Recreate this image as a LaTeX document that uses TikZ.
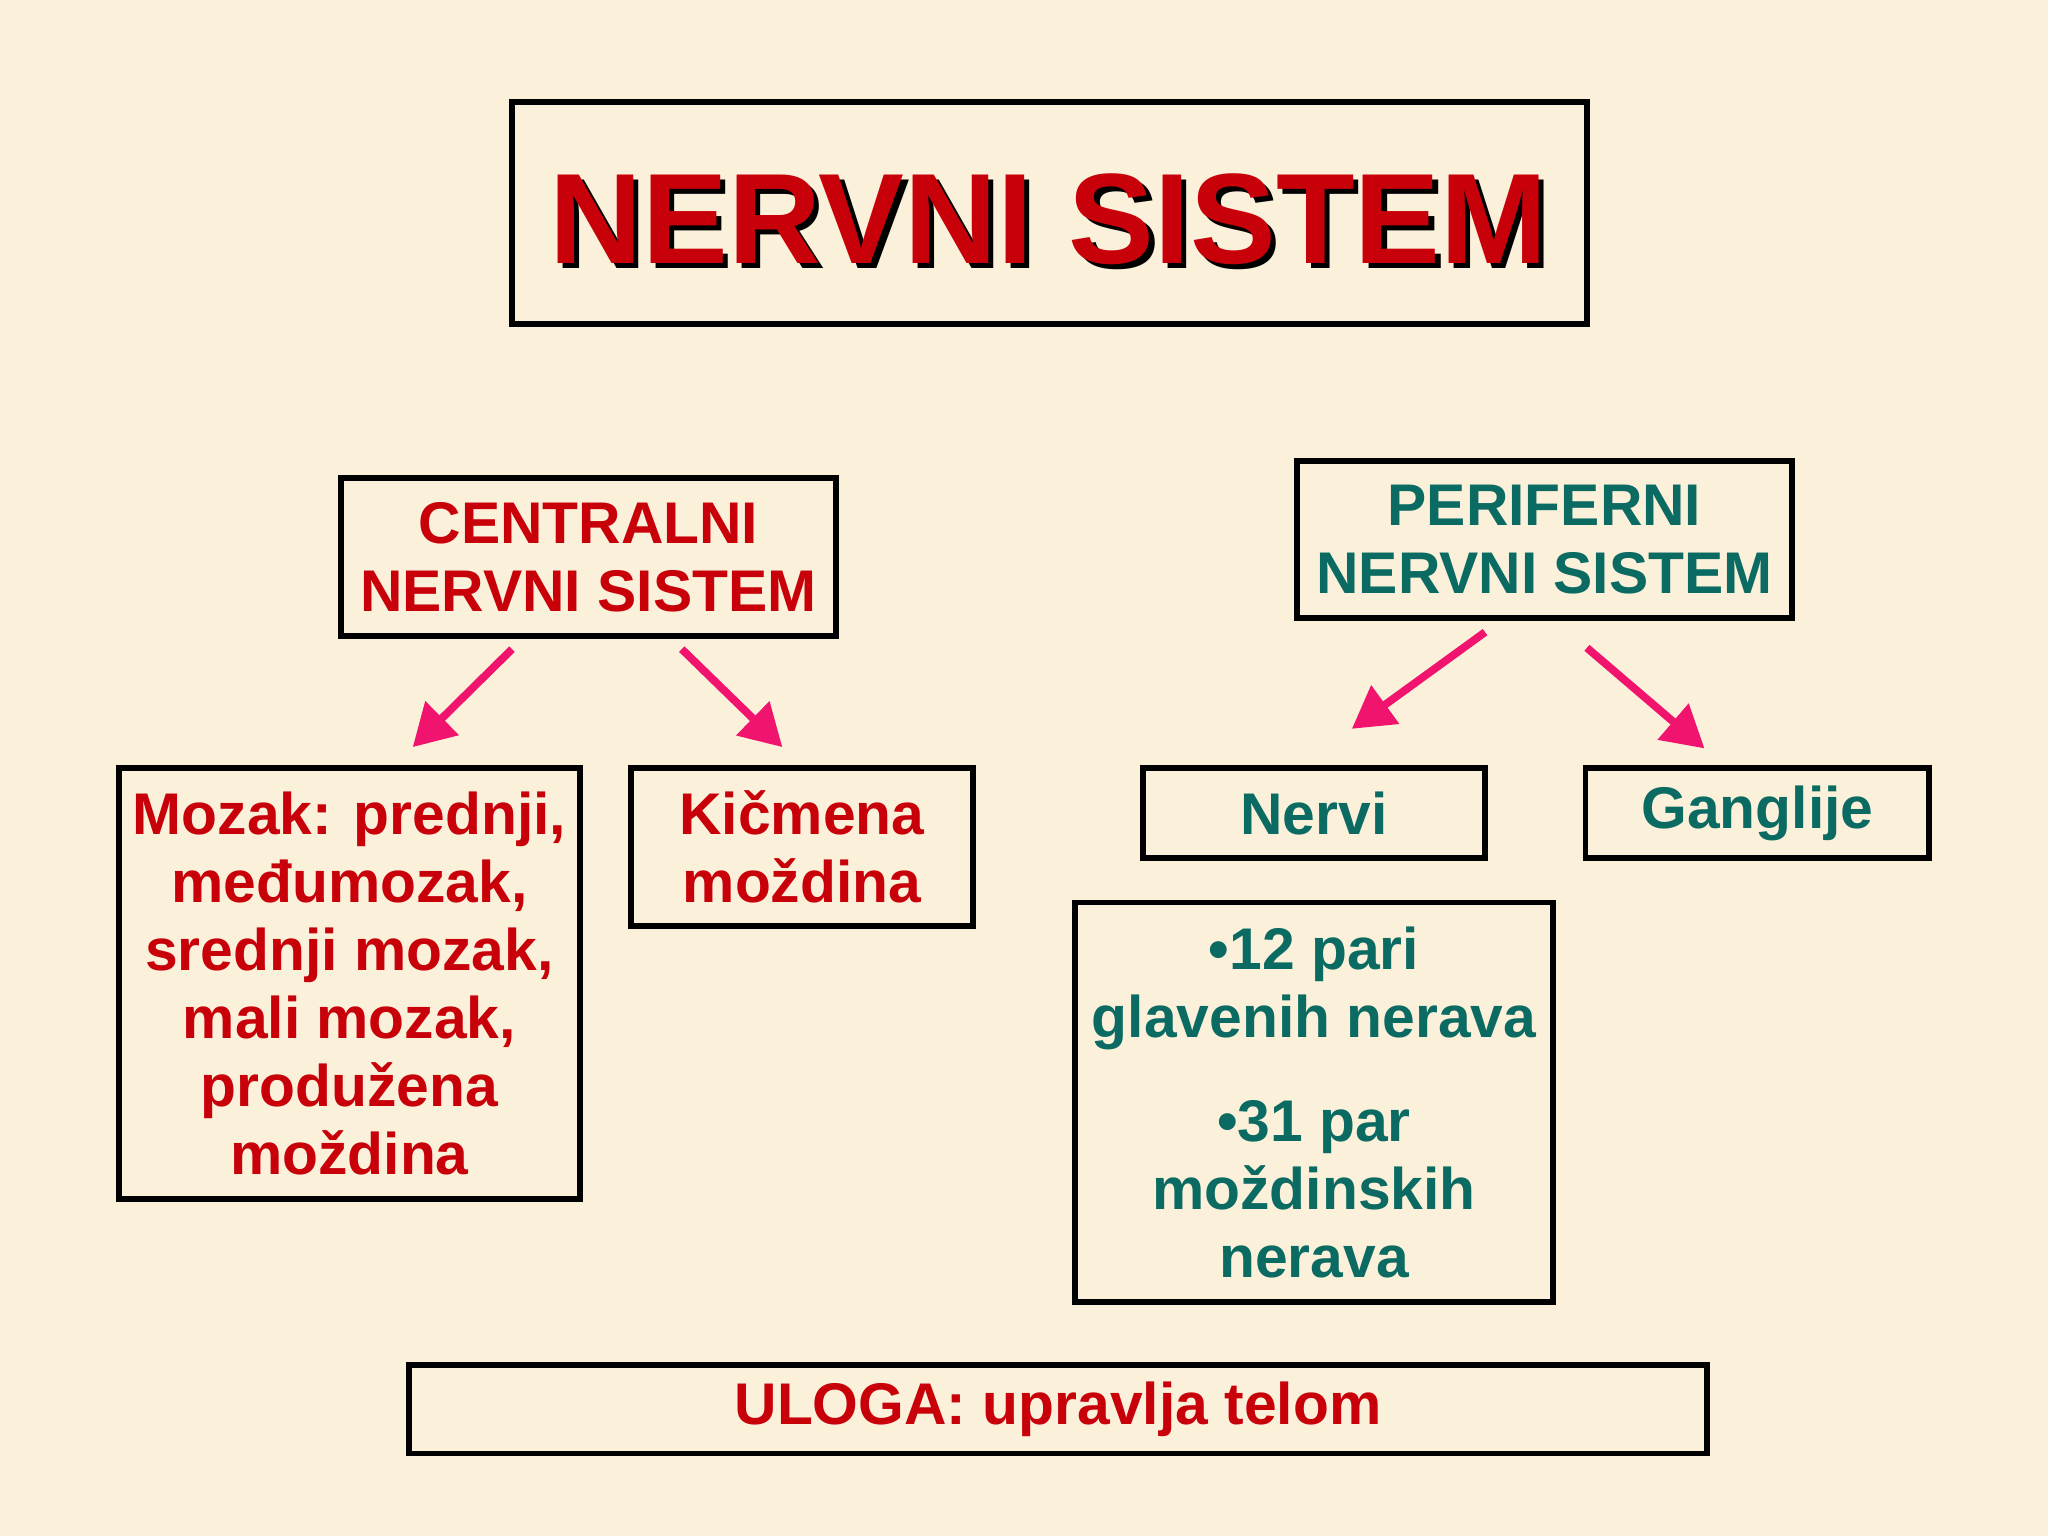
\documentclass[tikz,border=0pt]{standalone}
\usepackage{fontspec}
\usetikzlibrary{arrows.meta}
\setmainfont{Liberation Sans}
\definecolor{bg}{HTML}{FBF1DA}
\definecolor{tred}{HTML}{C8000A}
\definecolor{tteal}{HTML}{0B6B63}
\definecolor{arr}{HTML}{F0146E}
\begin{document}
\begin{tikzpicture}[x=0.01cm,y=-0.01cm,
  box/.style={draw=black,line width=1.2pt,inner sep=0pt,align=center,font=\bfseries\fontsize{12.8}{14.8}\selectfont},
  redt/.style={text=tred},
  tealt/.style={text=tteal},
  arrow/.style={draw=arr,line width=1.7pt,-{Triangle[length=9pt,width=10pt]}}]
\fill[bg] (0,0) rectangle (1568,1176);
\useasboundingbox (0,0) rectangle (1568,1176);
\node[box,minimum width=823*0.01cm,minimum height=170*0.01cm] (title) at (803.5,163) {};
\node[font=\bfseries\fontsize{28}{30}\selectfont,text=black] (titles) at (807,172) {NERVNI SISTEM};
\node[font=\bfseries\fontsize{28}{30}\selectfont,text=tred] (titlet) at (803,168) {NERVNI SISTEM};
\node[box,redt,minimum width=379*0.01cm,minimum height=121*0.01cm] (cns) at (450.5,426.5) {CENTRALNI\\NERVNI SISTEM};
\node[box,tealt,minimum width=379*0.01cm,minimum height=120*0.01cm] (pns) at (1182.5,413) {PERIFERNI\\NERVNI SISTEM};
\node[box,redt,minimum width=353*0.01cm,minimum height=330*0.01cm] (mozak) at (267.5,753) {Mozak: prednji,\\međumozak,\\srednji mozak,\\mali mozak,\\produžena\\moždina};
\node[box,redt,minimum width=262*0.01cm,minimum height=121*0.01cm] (kic) at (614,648.5) {Kičmena\\moždina};
\node[box,tealt,minimum width=262*0.01cm,minimum height=69*0.01cm] (nervi) at (1006,622.5) {Nervi};
\node[box,tealt,minimum width=263*0.01cm,minimum height=69*0.01cm] (gang) at (1345.5,622.5) {Ganglije};
\node[box,tealt,minimum width=366*0.01cm,minimum height=306*0.01cm] (pari) at (1006,844) {•12 pari\\glavenih nerava\\[0.28cm]•31 par\\moždinskih\\nerava};
\node[box,redt,minimum width=994*0.01cm,minimum height=68*0.01cm] (uloga) at (810,1079) {ULOGA: upravlja telom};
\coordinate (a1s) at (392,497); \coordinate (a1e) at (316,572);
\coordinate (a2s) at (522,497); \coordinate (a2e) at (599,572);
\coordinate (a3s) at (1137,484); \coordinate (a3e) at (1035,558);
\coordinate (a4s) at (1215,496); \coordinate (a4e) at (1305,573);
\draw[arrow] (a1s) -- (a1e);
\draw[arrow] (a2s) -- (a2e);
\draw[arrow] (a3s) -- (a3e);
\draw[arrow] (a4s) -- (a4e);
\end{tikzpicture}
\end{document}
